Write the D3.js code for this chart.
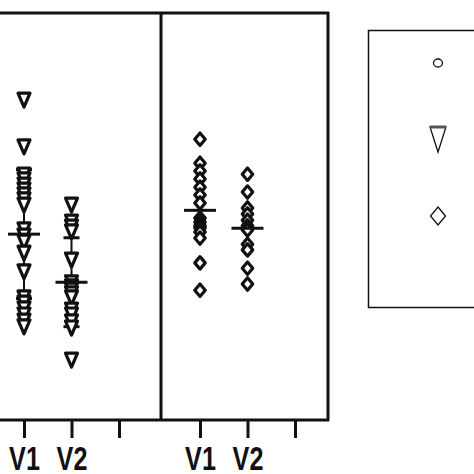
<!DOCTYPE html>
<html>
<head>
<meta charset="utf-8">
<script src="https://cdn.jsdelivr.net/npm/d3@7"></script>
<style>
    html, body { margin: 0; padding: 0; background: #fff; }
    svg { display: block; }
</style>
</head>
<body>
<svg id="chart" width="474" height="474"></svg>
<script>
// categories on each panel's x axis (third tick has no label)
const categories = ["V1", "V2", "V3"];
const tickLabels = ["V1", "V2", ""];

// left panel (triangles)
const leftV1 = [78.6, 67.1, 60.2, 59.0, 57.7, 56.5, 55.3, 54.1, 52.8, 46.7,
    45.2, 43.7, 41.0, 36.4, 30.0, 28.7, 27.3, 25.8, 24.3, 22.9];
const leftV2 = [52.8, 48.6, 47.4, 46.2, 39.3, 33.7, 32.7, 31.9, 31.0, 30.0,
    27.0, 25.8, 24.1, 22.6, 14.7];

// right panel (diamonds)
const rightV1 = [69.0, 63.1, 61.2, 59.2, 57.2, 55.3, 53.3, 49.6, 48.6, 47.7,
    47.2, 46.2, 44.7, 38.6, 31.9];
const rightV2 = [60.4, 56.0, 52.1, 50.6, 49.1, 47.7, 46.7, 43.2, 41.8, 37.3, 33.4];

// legend symbols (labels are outside the visible area)
const legendSymbols = ["circle", "triangle", "diamond"];

const svg = d3.select("#chart");
const ink = "#111";

const y = d3.scaleLinear().domain([0, 100]).range([420, 13]);

function trianglePath(w, h) {
    return "M" + (-w / 2) + "," + (-h / 2) + "L" + (w / 2) + "," + (-h / 2) + "L0," + (h / 2) + "Z";
}

function diamondPath(w, h) {
    return "M0," + (-h / 2) + "L" + (w / 2) + ",0L0," + (h / 2) + "L" + (-w / 2) + ",0Z";
}

const panels = [
    {x0: -15, series: [leftV1, leftV2], marker: "triangle", whiskers: true},
    {x0: 161, series: [rightV1, rightV2], marker: "diamond", whiskers: false}
];

// frame
svg.append("line")
    .attr("x1", 0).attr("x2", 329).attr("y1", 13).attr("y2", 13)
    .style("stroke", ink).style("stroke-width", 3);
svg.append("line")
    .attr("x1", 161).attr("x2", 161).attr("y1", 12).attr("y2", 421)
    .style("stroke", ink).style("stroke-width", 3);
svg.append("line")
    .attr("x1", 328).attr("x2", 328).attr("y1", 12).attr("y2", 421)
    .style("stroke", ink).style("stroke-width", 3);

panels.forEach(function (p) {
    let x = d3.scalePoint().domain(categories).range([39, 134]);
    let g = svg.append("g").attr("transform", "translate(" + p.x0 + ",0)");

    // x axis
    let axis = d3.axisBottom(x)
        .tickSize(18)
        .tickSizeOuter(0)
        .tickFormat((d, i) => tickLabels[i]);
    let axG = g.append("g")
        .attr("transform", "translate(0,420)")
        .call(axis);
    axG.select(".domain").remove();
    axG.selectAll(".tick line").style("stroke", ink).style("stroke-width", 3);
    axG.selectAll(".tick text")
        .attr("y", 0).attr("dy", 0)
        .attr("transform", "translate(0,50) scale(1.05,1.35)")
        .style("font-family", "'Liberation Sans', Arial, sans-serif")
        .style("font-weight", "bold")
        .style("font-size", "24px")
        .style("fill", ink);

    p.series.forEach(function (vals, i) {
        let cx = x(categories[i]);
        let m = d3.mean(vals);
        let sd = d3.deviation(vals);

        if (p.whiskers) {
            g.append("line")
                .attr("x1", cx).attr("x2", cx)
                .attr("y1", y(m + sd)).attr("y2", y(m - sd))
                .style("stroke", ink).style("stroke-width", 2);
            [m + sd, m - sd].forEach(function (v) {
                g.append("line")
                    .attr("x1", cx - 8).attr("x2", cx + 8)
                    .attr("y1", y(v)).attr("y2", y(v))
                    .style("stroke", ink).style("stroke-width", 3);
            });
        }

        g.selectAll(".pt" + i)
            .data(vals)
            .enter().append("path")
            .attr("class", "pt" + i)
            .attr("transform", d => "translate(" + cx + "," + y(d) + ")")
            .attr("d", p.marker === "triangle" ? trianglePath(12, 14) : diamondPath(10.5, 12.5))
            .style("fill", "#fff")
            .style("stroke", ink)
            .style("stroke-width", 3.2)
            .style("stroke-linejoin", "round");

        g.append("line")
            .attr("x1", cx - 16).attr("x2", cx + 16)
            .attr("y1", y(m)).attr("y2", y(m))
            .style("stroke", ink).style("stroke-width", 3);
    });
});

// axis baseline on top of tick roots
svg.append("line")
    .attr("x1", 0).attr("x2", 329).attr("y1", 420).attr("y2", 420)
    .style("stroke", ink).style("stroke-width", 3);

// legend
svg.append("rect")
    .attr("x", 368.5).attr("y", 30.5)
    .attr("width", 140).attr("height", 277)
    .style("fill", "none").style("stroke", ink).style("stroke-width", 1.5);

let legY = d3.scalePoint().domain(legendSymbols).range([63, 216]);
legendSymbols.forEach(function (s) {
    let lg = svg.append("g").attr("transform", "translate(438," + legY(s) + ")");
    if (s === "circle") {
        lg.append("ellipse").attr("rx", 4.5).attr("ry", 4)
            .style("fill", "#fff").style("stroke", ink).style("stroke-width", 1.3);
    } else if (s === "triangle") {
        lg.append("path").attr("d", trianglePath(16, 25))
            .style("fill", "#fff").style("stroke", ink).style("stroke-width", 1.3);
        lg.append("line").attr("x1", -8).attr("x2", 8).attr("y1", -12.5).attr("y2", -12.5)
            .style("stroke", "#555").style("stroke-width", 3);
    } else {
        lg.append("path").attr("d", diamondPath(15, 18))
            .style("fill", "#fff").style("stroke", ink).style("stroke-width", 1.3);
    }
});
</script>
</body>
</html>
